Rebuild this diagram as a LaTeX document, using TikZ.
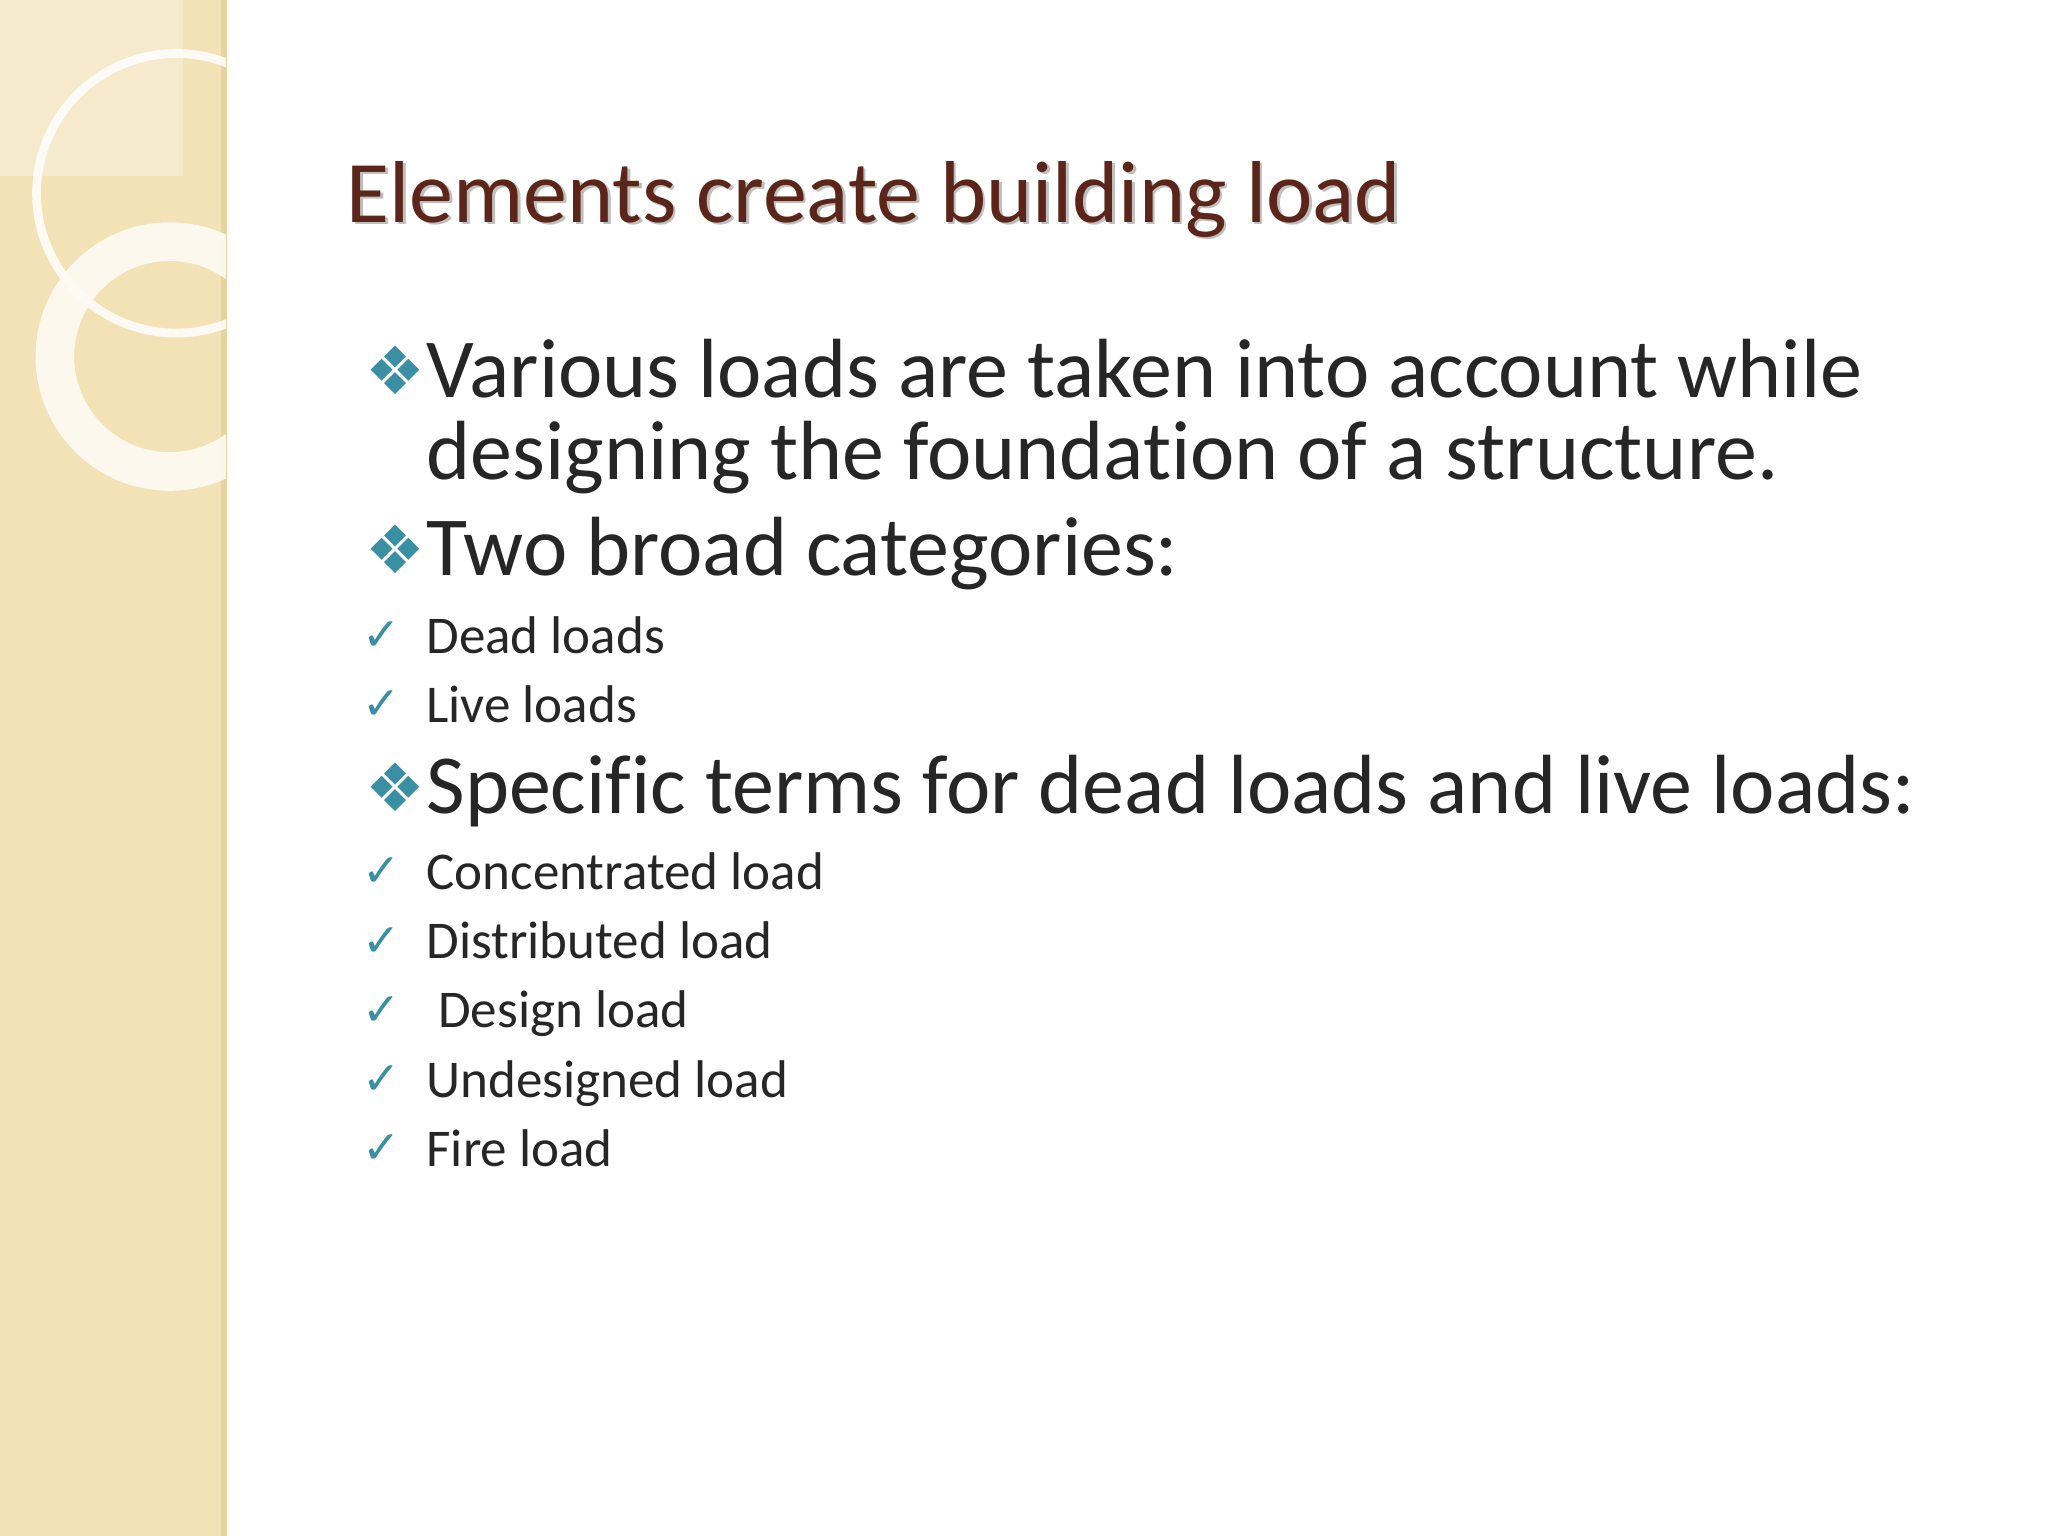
\documentclass[tikz,border=0pt]{standalone}
\usepackage{fontspec}
\setmainfont[Ligatures=NoCommon]{Carlito}
\newfontfamily\dv{DejaVu Sans}
\definecolor{strip}{HTML}{F3E2B6}
\definecolor{stripedge}{HTML}{E6D3A0}
\definecolor{titlec}{HTML}{5B2619}
\definecolor{teal}{HTML}{3A8FA3}
\definecolor{txt}{HTML}{262626}
\begin{document}
\begin{tikzpicture}[x=0.013061cm,y=-0.013061cm,
  big/.style={anchor=base west,font=\fontsize{23.9}{28}\selectfont,text=txt,inner sep=0},
  small/.style={anchor=base west,font=\fontsize{15.1}{18}\selectfont,text=txt,inner sep=0},
  dia/.style={anchor=base west,font=\dv\fontsize{19}{22}\selectfont,text=teal,inner sep=0},
  chk/.style={anchor=base west,font=\dv\fontsize{13}{15}\selectfont,text=teal,inner sep=0}]
\useasboundingbox (0,0) rectangle (1568,1176);
\fill[white] (0,0) rectangle (1568,1176);
\fill[strip] (0,0) rectangle (173,1176);
\fill[stripedge] (169,0) rectangle (174,1176);
\begin{scope}
\clip (0,0) rectangle (173,1176);
\fill[white,opacity=0.3] (0,0) rectangle (140,135);
\draw[white,line width=2.5pt,opacity=0.85] (135,148) circle (107);
\draw[white!85!strip,line width=11pt,opacity=0.9] (130,273) circle (88);
\end{scope}
\node[anchor=base west,font=\fontsize{25}{30}\selectfont,text=gray!50,inner sep=0] at (267,172) {Elements create building load};
\node (title)[anchor=base west,font=\fontsize{25}{30}\selectfont,text=titlec,inner sep=0] at (265,170) {Elements create building load};
\node (b1)[dia] at (279,302) {❖};
\node (t1)[big] at (326,304) {Various loads are taken into account while};
\node (t1b)[big] at (326,367) {designing the foundation of a structure.};
\node (b2)[dia] at (279,439) {❖};
\node (t2)[big] at (326,441) {Two broad categories:};
\node (c1)[chk] at (277,498) {✓};
\node (s1)[small] at (326,500) {Dead loads};
\node (c2)[chk] at (277,551) {✓};
\node (s2)[small] at (326,553) {Live loads};
\node (b3)[dia] at (279,621) {❖};
\node (t3)[big] at (326,623) {Specific terms for dead loads and live loads:};
\node (c3)[chk] at (277,679) {✓};
\node (s3)[small] at (326,681) {Concentrated load};
\node (c4)[chk] at (277,732) {✓};
\node (s4)[small] at (326,734) {Distributed load};
\node (c5)[chk] at (277,785) {✓};
\node (s5)[small] at (335,787) {Design load};
\node (c6)[chk] at (277,838) {✓};
\node (s6)[small] at (326,840) {Undesigned load};
\node (c7)[chk] at (277,891) {✓};
\node (s7)[small] at (326,893) {Fire load};
\end{tikzpicture}
\end{document}
